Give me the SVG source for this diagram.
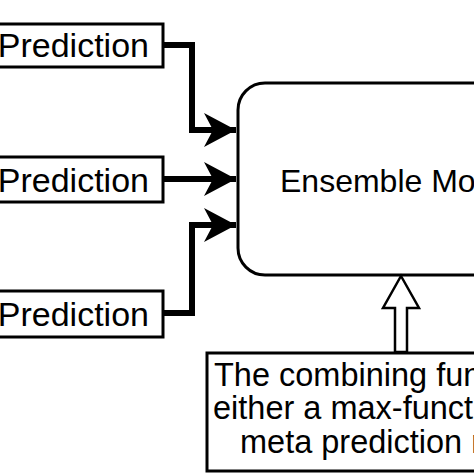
<svg xmlns="http://www.w3.org/2000/svg" width="474" height="474" viewBox="0 0 474 474">
  <style>
    .box { fill: #ffffff; stroke: #000000; stroke-width: 3; }
    .lbl { font-family: "Liberation Sans", Arial, sans-serif; fill: #000000; }
    .conn { fill: none; stroke: #000000; stroke-width: 6; stroke-linejoin: miter; }
  </style>
  <defs>
    <marker id="head" markerUnits="userSpaceOnUse" markerWidth="34" markerHeight="36" refX="32" refY="17" orient="auto" viewBox="0 0 34 36">
      <path d="M0,0 L32,17 L0,34 L9,17 Z" fill="#000000"/>
    </marker>
  </defs>

  <g id="pred1">
    <rect class="box" x="-10" y="24" width="173" height="43"/>
    <text class="lbl" x="149" y="57" font-size="34" text-anchor="end">Prediction</text>
  </g>
  <g id="pred2">
    <rect class="box" x="-10" y="157" width="173" height="45"/>
    <text class="lbl" x="149" y="192" font-size="34" text-anchor="end">Prediction</text>
  </g>
  <g id="pred3">
    <rect class="box" x="-10" y="291" width="173" height="46"/>
    <text class="lbl" x="149" y="326" font-size="34" text-anchor="end">Prediction</text>
  </g>

  <g id="ensemble">
    <rect class="box" x="238" y="83" width="300" height="192" rx="27" ry="27" stroke-width="2.5"/>
    <text class="lbl" x="280" y="192" font-size="32">Ensemble Model</text>
  </g>

  <g id="combining">
    <rect class="box" x="207" y="353" width="300" height="118"/>
    <text class="lbl" font-size="32.5">
      <tspan x="214" y="386">The combining function</tspan>
      <tspan x="213" y="419">either a max-function</tspan>
      <tspan x="240" y="453">meta prediction model</tspan>
    </text>
  </g>

  <g id="connectors">
    <polyline class="conn" points="163,45 192,45 192,130 236,130" marker-end="url(#head)"/>
    <polyline class="conn" points="163,179 236,179" marker-end="url(#head)"/>
    <polyline class="conn" points="163,313 192,313 192,225 236,225" marker-end="url(#head)"/>
    <path d="M401,276 L419,308 L407,308 L407,352 L395,352 L395,308 L383,308 Z" fill="#ffffff" stroke="#000000" stroke-width="2.5" stroke-linejoin="miter"/>
  </g>
</svg>
